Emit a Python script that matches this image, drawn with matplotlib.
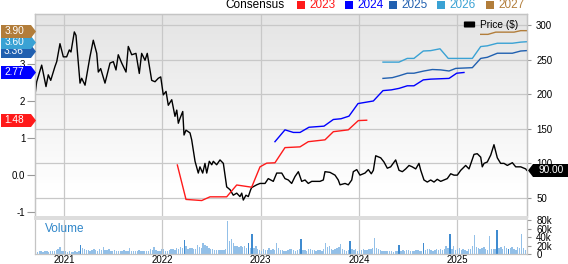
import numpy as np
import matplotlib
matplotlib.use('Agg')
import matplotlib.pyplot as plt
from matplotlib.path import Path
from matplotlib.patches import Rectangle, FancyBboxPatch
from matplotlib.transforms import blended_transform_factory

plt.rcParams['font.family'] = ['Liberation Sans', 'DejaVu Sans']

# price ($), dates as decimal years
price_t = [2020.705, 2020.722, 2020.773, 2020.817, 2020.840, 2020.865, 2020.908, 2020.926, 2020.959, 2020.993,
           2021.027, 2021.054, 2021.071, 2021.105, 2021.122, 2021.163, 2021.180, 2021.214, 2021.264, 2021.298,
           2021.333, 2021.349, 2021.373, 2021.417, 2021.468, 2021.502, 2021.529, 2021.552, 2021.587, 2021.631,
           2021.654, 2021.689, 2021.732, 2021.766, 2021.790, 2021.824, 2021.847, 2021.892, 2021.926, 2021.959,
           2021.984, 2022.010, 2022.038, 2022.061, 2022.096, 2022.129, 2022.147, 2022.163, 2022.180, 2022.208,
           2022.221, 2022.241, 2022.282, 2022.299, 2022.333, 2022.366, 2022.383, 2022.411, 2022.434, 2022.452,
           2022.478, 2022.503, 2022.519, 2022.553, 2022.587, 2022.621, 2022.655, 2022.689, 2022.722, 2022.757,
           2022.790, 2022.808, 2022.824, 2022.851, 2022.875, 2022.899, 2022.909, 2022.960, 2022.994, 2023.045,
           2023.078, 2023.129, 2023.164, 2023.215, 2023.248, 2023.282, 2023.316, 2023.350, 2023.384, 2023.418,
           2023.452, 2023.485, 2023.520, 2023.553, 2023.604, 2023.638, 2023.655, 2023.706, 2023.757, 2023.790,
           2023.808, 2023.859, 2023.892, 2023.927, 2023.943, 2023.978, 2024.011, 2024.062, 2024.096, 2024.126,
           2024.147, 2024.171, 2024.222, 2024.255, 2024.289, 2024.323, 2024.374, 2024.408, 2024.442, 2024.476,
           2024.510, 2024.543, 2024.578, 2024.611, 2024.629, 2024.662, 2024.696, 2024.730, 2024.764, 2024.797,
           2024.832, 2024.866, 2024.899, 2024.934, 2024.967, 2025.001, 2025.036, 2025.086, 2025.120, 2025.171,
           2025.204, 2025.239, 2025.255, 2025.273, 2025.306, 2025.341, 2025.374, 2025.408, 2025.442, 2025.476,
           2025.510, 2025.561, 2025.595, 2025.646, 2025.697, 2025.707]
price_v = [199, 218, 242, 211, 228, 220, 240, 247, 273, 254,
           254, 264, 261, 290, 285, 216, 223, 213, 254, 278,
           259, 232, 237, 216, 245, 247, 235, 257, 245, 232,
           269, 257, 259, 230, 259, 249, 259, 220, 218, 223,
           225, 199, 204, 184, 192, 168, 177, 158, 165, 175,
           141, 148, 144, 134, 103, 86, 95, 86, 100, 86,
           103, 98, 103, 98, 105, 100, 66, 62, 54, 57,
           52, 57, 47, 54, 52, 62, 65, 69, 71, 71,
           78, 74, 86, 86, 78, 76, 71, 81, 88, 74,
           76, 71, 74, 74, 74, 76, 88, 87, 83, 76,
           69, 71, 69, 76, 88, 91, 83, 86, 91, 85,
           90, 111, 108, 102, 93, 95, 105, 90, 88, 92,
           97, 95, 92, 100, 90, 76, 73, 76, 73, 77,
           74, 76, 78, 85, 83, 83, 90, 97, 92, 113,
           114, 109, 95, 100, 102, 112, 127, 108, 100, 100,
           97, 101, 95, 95, 92, 90]

# consensus EPS estimates by fiscal year
eps_2023_t = [2022.153, 2022.241, 2022.401, 2022.485, 2022.655, 2022.757, 2022.909, 2022.994, 2023.062,
              2023.146, 2023.248, 2023.401, 2023.485, 2023.655, 2023.740, 2023.892, 2023.994, 2024.079]
eps_2023 = [0.27, -0.66, -0.69, -0.59, -0.59, -0.27, -0.33, 0.22, 0.32,
            0.33, 0.74, 0.76, 0.90, 0.95, 1.17, 1.22, 1.47, 1.48]
eps_2024_t = [2023.146, 2023.248, 2023.333, 2023.401, 2023.492, 2023.645, 2023.740, 2023.818, 2023.899,
              2023.991, 2024.147, 2024.245, 2024.330, 2024.408, 2024.492, 2024.560, 2024.655, 2024.730,
              2024.917, 2024.995, 2025.069]
eps_2024 = [0.90, 1.22, 1.15, 1.15, 1.29, 1.32, 1.50, 1.52, 1.59,
            1.93, 2.00, 2.28, 2.30, 2.34, 2.41, 2.41, 2.57, 2.59,
            2.61, 2.75, 2.77]
eps_2025_t = [2024.245, 2024.340, 2024.408, 2024.492, 2024.560, 2024.662, 2024.747, 2024.832, 2024.917,
              2024.985, 2025.154, 2025.239, 2025.306, 2025.408, 2025.561, 2025.646, 2025.703]
eps_2025 = [2.61, 2.63, 2.68, 2.75, 2.75, 2.81, 2.85, 2.84, 2.81,
            2.88, 2.90, 3.15, 3.18, 3.29, 3.29, 3.35, 3.36]
eps_2026_t = [2024.245, 2024.408, 2024.492, 2024.560, 2024.655, 2024.730, 2024.825, 2024.909,
              2025.001, 2025.154, 2025.239, 2025.306, 2025.408, 2025.561, 2025.646, 2025.703]
eps_2026 = [3.05, 3.05, 3.15, 3.15, 3.35, 3.36, 3.41, 3.15,
            3.15, 3.15, 3.47, 3.49, 3.56, 3.56, 3.59, 3.60]
eps_2027_t = [2025.239, 2025.313, 2025.392, 2025.578, 2025.646, 2025.703]
eps_2027 = [3.80, 3.80, 3.86, 3.86, 3.90, 3.90]

eps_years = ['2023', '2024', '2025', '2026', '2027']
eps_colors = ['#ff1a1a', '#0000ff', '#2160b0', '#3aa2d4', '#b27d3a']

# weekly volume (thousands)
vol_start = 2020.71
volume = [6, 5, 7, 6, 5, 6, 8, 5, 6, 7, 6, 9, 12, 16,
          8, 6, 7, 5, 6, 5, 4, 6, 5, 7, 22,
          14, 12, 9, 10, 8, 9, 11, 10, 8, 12, 9, 17,
          10, 9, 12, 8, 7, 9, 8, 7, 6, 8, 9, 7, 8, 14,
          8, 7, 6, 7, 9, 8, 7, 6, 7, 8, 11, 9, 16,
          9, 8, 7, 12, 11, 8, 7, 9, 13, 12, 10, 14, 11, 17, 15, 33,
          20, 12, 14, 15, 11, 13,
          22, 16, 14, 27, 22, 18, 15, 12, 11, 10, 10, 9, 10, 9, 10, 11, 78,
          30, 35, 26, 20, 18, 17, 19, 16, 18, 15,
          27, 14, 47, 15, 20, 12, 10, 8, 12, 9,
          10, 14, 9, 11, 10, 27, 14, 10, 9, 8,
          8, 10, 12, 11, 9, 8, 10, 12, 35, 10,
          9, 8, 11, 12, 9, 10, 8, 9, 10, 8,
          11, 26, 16, 20, 12, 10, 11, 14, 16, 23,
          11, 9, 8, 10, 31, 13, 10, 12, 8, 9,
          10, 12, 9, 10, 11, 13, 14, 38,
          14, 11, 10, 8, 6, 7, 6, 7, 6, 5, 7, 6, 22,
          8, 9, 7, 10, 9, 6, 8, 7, 9, 10, 7, 8, 26,
          10, 12, 11, 9, 8, 10, 11, 9, 12, 10, 13, 18, 14, 47,
          12, 20, 10, 11, 14, 9, 12, 10, 8, 11, 13, 19, 45,
          16, 14, 12, 15, 17, 11, 10, 43, 13, 12, 12, 56,
          15, 16, 12, 18, 14, 11, 15, 17, 13, 10, 16, 14, 48, 14, 10]
dark_weeks = [24, 79, 113, 115, 141, 167, 193, 206, 220, 245, 251]

W, H = 568, 264
fig = plt.figure(figsize=(W / 100, H / 100), dpi=100)


def fx(px):
    return px / W


def fy(py):
    return 1 - py / H


ax_p = fig.add_axes([fx(35), fy(217), fx(527) - fx(35), fy(14) - fy(217)])
ax_v = fig.add_axes([fx(35), fy(254), fx(527) - fx(35), fy(219) - fy(254)], sharex=ax_p)
ax_e = ax_p.twinx()

# grey-to-white background of the price panel
f = np.linspace(0, 1, 200)
g = (228 + 27 * np.clip(1.153 * (1 - f), 0, 1)) / 255
img = np.repeat(g[:, None, None], 3, axis=2)
ax_p.imshow(img, extent=[0, 1, 0, 1], transform=ax_p.transAxes, aspect='auto',
            origin='lower', zorder=0, interpolation='bilinear')

ax_p.plot(price_t, price_v, color='black', lw=1.0, zorder=3)

series = [(eps_2023_t, eps_2023), (eps_2024_t, eps_2024), (eps_2025_t, eps_2025),
          (eps_2026_t, eps_2026), (eps_2027_t, eps_2027)]
for (t, v), c in zip(series, eps_colors):
    ax_e.plot(t, v, color=c, lw=1.0)

# volume bars
vol_t = vol_start + np.arange(len(volume)) / 52.18
bar_cols = ['#3f8bd0' if i in dark_weeks else '#93c0e8' for i in range(len(volume))]
ax_v.bar(vol_t, volume, width=0.75 / 52.18, color=bar_cols, lw=0)

# axes, ticks, grid
years = [2021, 2022, 2023, 2024, 2025]
ax_p.set_xlim(2020.705, 2025.71)
ax_p.set_ylim(22.5, 315.9)
ax_e.set_ylim(-1.135, 4.35)
ax_v.set_ylim(0, 83)

ax_p.set_xticks(years)
ax_p.tick_params(axis='x', labelbottom=False, length=0)
ax_p.yaxis.tick_right()
ax_p.set_yticks([50, 100, 150, 200, 250, 300])
ax_p.tick_params(axis='y', labelsize=7, length=3, color='#999999', pad=3.6)
ax_p.set_axisbelow(True)
ax_p.grid(True, color='#c8c8c8', lw=0.9)

ax_e.yaxis.tick_left()
ax_e.set_yticks([-1, 0, 1, 2, 3])
ax_e.set_yticklabels(['-1', '0.0', '1', '2', '3'])
ax_e.tick_params(axis='y', labelsize=7, length=5.5, color='#999999', pad=1.5)

ax_v.yaxis.tick_right()
ax_v.set_yticks([0, 20, 40, 60, 80])
ax_v.set_yticklabels(['0', '20k', '40k', '60k', '80k'])
ax_v.tick_params(axis='y', labelsize=7, length=3, color='#999999', pad=3.6)
ax_v.set_xticks(years)
ax_v.set_xticklabels([str(y) for y in years])
ax_v.tick_params(axis='x', labelsize=7, length=0, pad=1)
ax_v.set_axisbelow(True)
ax_v.grid(True, axis='x', color='#c8c8c8', lw=0.9)

for ax in (ax_p, ax_e, ax_v):
    for s in ax.spines.values():
        s.set_color('#c4c4c4')
        s.set_linewidth(0.9)
for ax in (ax_p, ax_e):
    ax.spines['bottom'].set_color('#dddddd')
    ax.spines['bottom'].set_linewidth(1.4)
ax_v.spines['top'].set_color('#dddddd')
ax_v.spines['top'].set_linewidth(1.4)

# value flags on the left (EPS) and right (price)
flag_r = Path([(-17.5, -6.5), (12.5, -6.5), (17.5, 0), (12.5, 6.5), (-17.5, 6.5), (-17.5, -6.5)], closed=True)
blend_l = blended_transform_factory(fig.transFigure, ax_e.transData)
for k, ((t, v), c) in enumerate(zip(series, eps_colors)):
    ax_e.plot([fx(17.5)], [v[-1]], marker=flag_r, ms=35 * 0.72, mfc=c, mec=c, mew=0,
              transform=blend_l, clip_on=False, zorder=10 + 2 * k)
    ax_e.text(fx(14), v[-1], f'{v[-1]:.2f}', transform=blend_l, color='white', fontsize=7.3,
              ha='center', va='center', zorder=11 + 2 * k, clip_on=False)

flag_l = Path([(-20.5, 0), (-15.5, -6.5), (20.5, -6.5), (20.5, 6.5), (-15.5, 6.5), (-20.5, 0)], closed=True)
blend_r = blended_transform_factory(fig.transFigure, ax_p.transData)
ax_p.plot([fx(547.5)], [price_v[-1]], marker=flag_l, ms=41 * 0.72, mfc='black', mec='black', mew=0,
          transform=blend_r, clip_on=False, zorder=20)
ax_p.text(fx(551), price_v[-1], f'{price_v[-1]:.2f}', transform=blend_r, color='white', fontsize=7.3,
          ha='center', va='center', zorder=21, clip_on=False)

# consensus legend across the top
fig.text(fx(225), fy(5.5), 'Consensus', fontsize=8.5, ha='left', va='center')
sq_x = [297, 345, 389, 437, 486]
for x, yr, c in zip(sq_x, eps_years, eps_colors):
    fig.patches.append(Rectangle((fx(x), fy(9)), 8 / W, 8 / H, transform=fig.transFigure,
                                 facecolor=c, edgecolor='none'))
    fig.text(fx(x + 12), fy(5.5), yr, color=c, fontsize=8.5, ha='left', va='center')

# price legend inside the panel
fig.patches.append(FancyBboxPatch((fx(465), fy(27)), 9 / W, 5 / H, boxstyle='round,pad=0.002',
                                  transform=fig.transFigure, facecolor='black', edgecolor='none'))
fig.text(fx(480), fy(25), 'Price ($)', fontsize=7.3, ha='left', va='center')

fig.text(fx(45), fy(229), 'Volume', color='#2f86c9', fontsize=8.5, ha='left', va='center')

fig.savefig('out.png', dpi=100)
